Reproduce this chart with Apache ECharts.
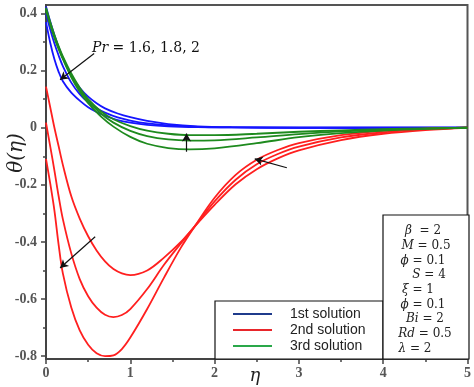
<!DOCTYPE html>
<html>
<head>
<meta charset="utf-8">
<script src="https://cdn.jsdelivr.net/npm/echarts@6/dist/echarts.min.js"></script>
<style>html,body{margin:0;padding:0;background:#fff}#c{width:474px;height:387px}</style>
</head>
<body>
<div id="c"></div>
<script>
// ---- data ----
const etaBlue = [0, 0.05, 0.1, 0.15, 0.2, 0.3, 0.4, 0.5, 0.6, 0.7, 0.85, 1.0, 1.2, 1.45, 1.8, 2.2, 3.0, 4.0, 5.0];
const blue1 = [0.425, 0.372, 0.325, 0.283, 0.245, 0.183, 0.14, 0.109, 0.086, 0.068, 0.05, 0.037, 0.024, 0.013, 0.005, 0.002, 0.0005, 0, 0];
const blue2 = [0.40, 0.344, 0.295, 0.253, 0.216, 0.158, 0.118, 0.089, 0.068, 0.053, 0.036, 0.025, 0.015, 0.008, 0.003, 0.001, 0, 0, 0];
const blue3 = [0.37, 0.298, 0.24, 0.196, 0.163, 0.123, 0.095, 0.072, 0.055, 0.042, 0.027, 0.018, 0.01, 0.005, 0.002, 0.001, 0, 0, 0];

const etaGreen = [0, 0.05, 0.1, 0.15, 0.2, 0.3, 0.4, 0.5, 0.65, 0.8, 1.0, 1.2, 1.45, 1.7, 2.0, 2.5, 3.0, 3.5, 4.0, 4.5, 5.0];
const green1 = [0.42, 0.37, 0.325, 0.285, 0.25, 0.19, 0.14, 0.1, 0.058, 0.03, 0.006, -0.01, -0.021, -0.026, -0.026, -0.021, -0.014, -0.009, -0.005, -0.002, 0];
const green2 = [0.415, 0.365, 0.32, 0.28, 0.245, 0.183, 0.133, 0.094, 0.05, 0.018, -0.011, -0.029, -0.041, -0.045, -0.044, -0.034, -0.022, -0.013, -0.007, -0.003, 0];
const green3 = [0.41, 0.36, 0.315, 0.275, 0.24, 0.177, 0.126, 0.086, 0.04, 0.004, -0.032, -0.056, -0.071, -0.076, -0.072, -0.054, -0.033, -0.019, -0.01, -0.004, 0];

const etaRed = [0, 0.05, 0.1, 0.15, 0.2, 0.3, 0.4, 0.5, 0.6, 0.7, 0.8, 0.9, 1.0, 1.2, 1.4, 1.6, 1.76, 2.0, 2.25, 2.5, 2.75, 3.0, 3.5, 4.0, 4.5, 5.0];
const red1 = [0.144, 0.072, 0.0, -0.065, -0.13, -0.24, -0.318, -0.38, -0.43, -0.468, -0.495, -0.51, -0.516, -0.5, -0.455, -0.4, -0.347, -0.27, -0.198, -0.145, -0.107, -0.079, -0.043, -0.021, -0.008, 0];
const red2 = [0.018, -0.065, -0.15, -0.24, -0.32, -0.44, -0.53, -0.59, -0.63, -0.655, -0.663, -0.656, -0.635, -0.565, -0.48, -0.405, -0.347, -0.258, -0.182, -0.128, -0.092, -0.066, -0.034, -0.016, -0.005, 0];
const red3 = [-0.109, -0.195, -0.29, -0.41, -0.51, -0.63, -0.71, -0.76, -0.79, -0.80, -0.797, -0.775, -0.735, -0.635, -0.525, -0.42, -0.347, -0.245, -0.165, -0.112, -0.078, -0.054, -0.026, -0.011, -0.003, 0];

const seriesNames = ['1st solution', '2nd solution', '3rd solution'];
const yTickLabels = [-0.8, -0.6, -0.4, -0.2, 0, 0.2, 0.4];
const yMinorTicks = [-0.7, -0.5, -0.3, -0.1, 0.1, 0.3];
const paramLines = ['{i|β}  = 2', '{i|M} = 0.5', '{i|ϕ} = 0.1', '{i|S} = 4', '{i|ξ} = 1', '{i|ϕ} = 0.1', '{i|Bi} = 2', '{i|Rd} = 0.5', '{i|λ} = 2'];

// arrows in data coordinates [eta, theta]
const arrows = [
  [[0.571, 0.26], [0.167, 0.168]],
  [[1.667, -0.084], [1.667, -0.02]],
  [[2.857, -0.14], [2.476, -0.109]],
  [[0.583, -0.382], [0.167, -0.491]]
];

// ---- chart ----
const zip = (xs, ys) => xs.map((x, i) => [x, ys[i]]);
const colBlue = '#1515ff', colRed = '#ff1f1f', colGreen = '#1e8a1e';
const mk = (name, xs, ys, color) => ({
  name, type: 'line', data: zip(xs, ys), showSymbol: false, smooth: 0.35,
  lineStyle: { color, width: 1.8 }, itemStyle: { color }
});
const series = [
  mk(seriesNames[0], etaBlue, blue1, colBlue),
  mk(seriesNames[0], etaBlue, blue2, colBlue),
  mk(seriesNames[0], etaBlue, blue3, colBlue),
  mk(seriesNames[1], etaRed, red1, colRed),
  mk(seriesNames[1], etaRed, red2, colRed),
  mk(seriesNames[1], etaRed, red3, colRed),
  mk(seriesNames[2], etaGreen, green1, colGreen),
  mk(seriesNames[2], etaGreen, green2, colGreen),
  mk(seriesNames[2], etaGreen, green3, colGreen)
];
series[0].markLine = {
  silent: true, symbol: ['none', 'arrow'], symbolSize: [7, 8],
  label: { show: false }, animation: false,
  lineStyle: { color: '#111', width: 1.2, type: 'solid' },
  data: arrows.map(a => [{ coord: a[0] }, { coord: a[1] }])
};

const axisFont = { fontFamily: 'Liberation Serif', fontWeight: 'bold', fontSize: 14, color: '#555' };
const chart = echarts.init(document.getElementById('c'), null, { renderer: 'canvas' });
const paramY0 = 231, paramDy = 14.7;
const paramX = [423, 426, 423, 429, 418, 423, 425, 425, 415];
chart.setOption({
  animation: false,
  backgroundColor: '#fff',
  grid: { left: 46, right: 6, top: 5, bottom: 28, show: true, borderColor: '#555', borderWidth: 2, backgroundColor: 'transparent' },
  xAxis: {
    type: 'value', min: 0, max: 5, interval: 1,
    axisLine: { onZero: false, lineStyle: { color: '#444', width: 2 } },
    axisTick: { show: true, length: 5, lineStyle: { color: '#444', width: 1.5 } },
    minorTick: { show: true, splitNumber: 2, length: 3, lineStyle: { color: '#444', width: 1.5 } },
    splitLine: { show: false },
    axisLabel: Object.assign({ margin: 7 }, axisFont)
  },
  yAxis: [{
    type: 'value', min: -0.81, max: 0.43,
    axisLine: { show: true, onZero: false, lineStyle: { color: '#444', width: 2 } },
    axisTick: { show: true, length: 5, customValues: yTickLabels, lineStyle: { color: '#444', width: 1.5 } },
    splitLine: { show: false },
    axisLabel: Object.assign({ margin: 9, customValues: yTickLabels, formatter: v => (Math.abs(v) < 1e-9 ? '0' : v.toFixed(1)) }, axisFont)
  }, {
    type: 'value', min: -0.81, max: 0.43, position: 'left',
    axisLine: { show: false, onZero: false },
    axisTick: { show: true, length: 3, customValues: yMinorTicks, lineStyle: { color: '#444', width: 1.5 } },
    axisLabel: { show: false },
    splitLine: { show: false }
  }],
  legend: {
    orient: 'vertical', left: 233, top: 306, padding: 0, itemGap: 0,
    icon: 'rect', itemWidth: 39, itemHeight: 2,
    textStyle: { fontFamily: 'Liberation Sans', fontSize: 14, color: '#222', lineHeight: 16, padding: [0, 0, 0, 13] },
    data: [
      { name: seriesNames[0], itemStyle: { color: '#1f3b8c' } },
      { name: seriesNames[1], itemStyle: { color: '#e8262b' } },
      { name: seriesNames[2], itemStyle: { color: '#2aa84a' } }
    ],
    z: 20
  },
  graphic: [
    { type: 'rect', z: 10, shape: { x: 215, y: 301, width: 168, height: 58 }, style: { fill: '#fff', stroke: '#111', lineWidth: 1.2 } },
    { type: 'rect', z: 10, shape: { x: 383, y: 215, width: 86, height: 144 }, style: { fill: '#fff', stroke: '#111', lineWidth: 1.2 } },
    ...paramLines.map((t, i) => ({
      type: 'text', z: 11, x: paramX[i], y: paramY0 + i * paramDy,
      style: {
        text: t, fontFamily: 'DejaVu Serif', fontSize: 12, fill: '#222', align: 'center', verticalAlign: 'middle',
        rich: { i: { fontFamily: 'DejaVu Serif', fontStyle: 'italic', fontSize: 12, fill: '#222' } }
      }
    })),
    {
      type: 'text', z: 11, x: 92, y: 48,
      style: {
        text: '{i|Pr} = 1.6, 1.8, 2', fontFamily: 'DejaVu Serif', fontSize: 14, fill: '#111', align: 'left', verticalAlign: 'middle',
        rich: { i: { fontFamily: 'DejaVu Serif', fontStyle: 'italic', fontSize: 14, fill: '#111' } }
      }
    },
    {
      type: 'text', z: 11, x: 17, y: 153, rotation: Math.PI / 2,
      style: { text: 'θ(η)', fontFamily: 'DejaVu Serif', fontStyle: 'italic', fontSize: 20, fill: '#222', align: 'center', verticalAlign: 'middle' }
    },
    {
      type: 'text', z: 11, x: 255, y: 376,
      style: { text: 'η', fontFamily: 'DejaVu Serif', fontStyle: 'italic', fontSize: 18, fill: '#222', align: 'center', verticalAlign: 'middle' }
    }
  ],
  series
});
</script>
</body>
</html>
